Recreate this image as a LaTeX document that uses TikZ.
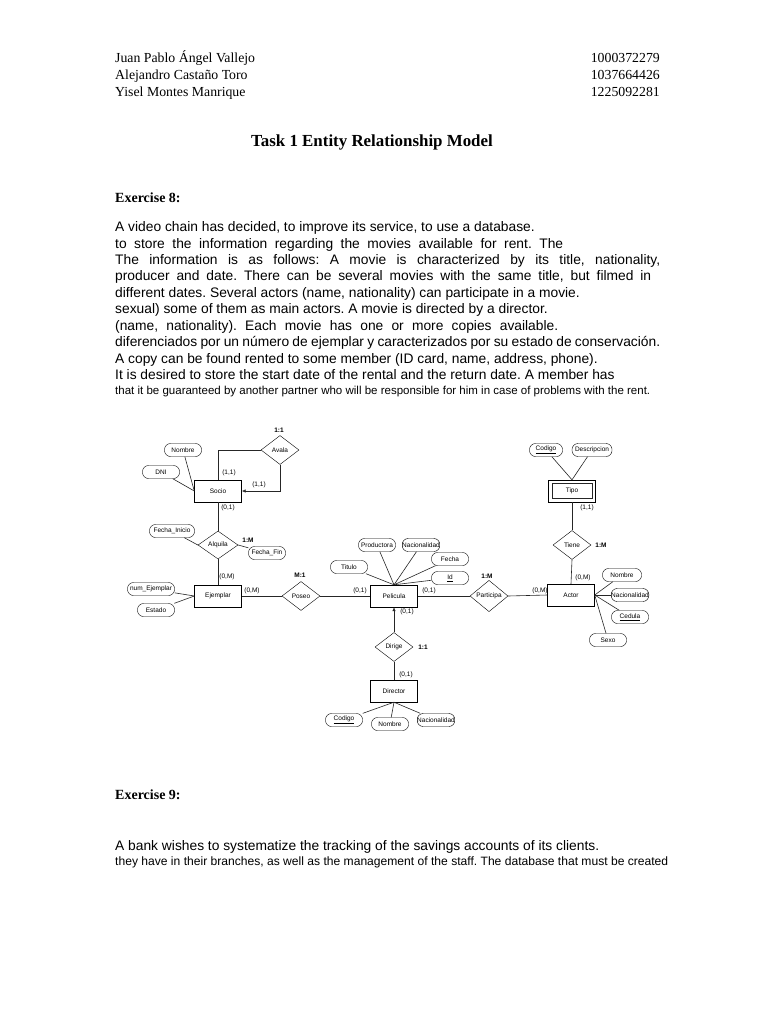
\documentclass[tikz,border=0pt]{standalone}
\usepackage{fontspec}
\setmainfont{Liberation Serif}
\newfontfamily\arial{Liberation Sans}
\usetikzlibrary{shapes.geometric,arrows.meta}
\frenchspacing
\tikzset{
  hdr/.style={anchor=base west,inner sep=0pt,font=\fontsize{13.8}{14}\selectfont},
  hdrr/.style={anchor=base east,inner sep=0pt,font=\fontsize{13.8}{14}\selectfont},
  body/.style={anchor=base west,inner sep=0pt,font=\arial\fontsize{13.8}{14}\selectfont},
  ent/.style={draw,rectangle,minimum width=47pt,minimum height=22pt,inner sep=0pt,font=\arial\fontsize{6.5}{7}\selectfont},
  att/.style={draw,rectangle,rounded corners=6pt,minimum width=37pt,minimum height=13pt,inner sep=0pt,font=\arial\fontsize{6.5}{7}\selectfont},
  rel/.style={draw,diamond,minimum width=38pt,minimum height=29pt,inner sep=0pt,font=\arial\fontsize{6.5}{7}\selectfont},
  card/.style={inner sep=0pt,font=\arial\fontsize{6.5}{7}\selectfont},
  ratio/.style={inner sep=0pt,font=\arial\bfseries\fontsize{6.5}{7}\selectfont},
  ln/.style={draw=black!85,line width=0.6pt},
}
\begin{document}
\begin{tikzpicture}[x=1pt,y=-1pt]
\useasboundingbox[fill=white] (0,0) rectangle (768,1024);
% header
\node[hdr] (n1) at (115,63) {Juan Pablo Ángel Vallejo};
\node[hdr] (n2) at (115,80) {Alejandro Castaño Toro};
\node[hdr] (n3) at (115,97) {Yisel Montes Manrique};
\node[hdrr] (c1) at (660,63) {1000372279};
\node[hdrr] (c2) at (660,80) {1037664426};
\node[hdrr] (c3) at (660,97) {1225092281};
\node[inner sep=0pt,font=\bfseries\fontsize{16.9}{17}\selectfont] (title) at (372,142) {Task 1 Entity Relationship Model};
\node[hdr,font=\bfseries\fontsize{14}{14}\selectfont] (ex8) at (115,203) {Exercise 8:};
% body
\node[body] (l1) at (115,232) {A video chain has decided, to improve its service, to use a database.};
\node[body] (l2) at (115,248) {\makebox[448pt][s]{to store the information regarding the movies available for rent. The}};
\node[body] (l3) at (115,264) {\makebox[545pt][s]{The information is as follows: A movie is characterized by its title, nationality,}};
\node[body] (l4) at (115,280) {\makebox[536pt][s]{producer and date. There can be several movies with the same title, but filmed in}};
\node[body] (l5) at (115,297) {different dates. Several actors (name, nationality) can participate in a movie.};
\node[body] (l6) at (115,313) {sexual) some of them as main actors. A movie is directed by a director.};
\node[body] (l7) at (115,330) {\makebox[443pt][s]{(name, nationality). Each movie has one or more copies available.}};
\node[body] (l8) at (115,346) {\makebox[545pt][s]{diferenciados por un número de ejemplar y caracterizados por su estado de conservación.}};
\node[body] (l9) at (115,363) {A copy can be found rented to some member (ID card, name, address, phone).};
\node[body] (l10) at (115,379) {It is desired to store the start date of the rental and the return date. A member has};
\node[body] (l11) at (115,394) {\resizebox{535pt}{!}{\fontsize{11}{11}\selectfont that it be guaranteed by another partner who will be responsible for him in case of problems with the rent.}};
% ===== diagram =====
% Socio
\node[ent] (socio) at (218,491) {Socio};
\node[att] (snom) at (183,450) {Nombre};
\node[att] (sdni) at (161,472) {DNI};
\node[rel] (avala) at (280,450) {Avala};
\node[ratio] (r11a) at (279,430) {1:1};
\node[card] (ca1) at (229,473) {(1,1)};
\node[card] (ca2) at (259,485) {(1,1)};
\node[card] (ca3) at (228,508) {(0,1)};
\draw[ln] (avala.west) -| (socio.north);
\draw[ln,-{Latex[length=4pt,width=3.5pt]}] (avala.south) |- (socio.east);
\draw[ln] (snom) -- (socio.west);
\draw[ln] (sdni) -- (socio.west);
% Alquila
\node[rel,minimum width=40pt,minimum height=28pt] (alq) at (218,545) {Alquila};
\node[att,minimum width=45pt] (fini) at (172,531) {Fecha\_Inicio};
\node[att] (ffin) at (267,553) {Fecha\_Fin};
\node[ratio] (r1m1) at (248,540) {1:M};
\draw[ln] (socio.south) -- (alq.north);
\draw[ln] (fini) -- (alq.west);
\draw[ln] (alq.east) -- (ffin);
% Ejemplar
\node[ent] (ejem) at (218,596) {Ejemplar};
\node[att,minimum width=47pt] (numej) at (151,589) {num\_Ejemplar};
\node[att] (estado) at (156,610) {Estado};
\node[card] (ce1) at (227,577) {(0,M)};
\node[card] (ce2) at (252,591) {(0,M)};
\draw[ln] (alq.south) -- (ejem.north);
\draw[ln] (numej) -- (ejem.west);
\draw[ln] (estado) -- (ejem.west);
% Poseo
\node[rel] (poseo) at (301,596) {Poseo};
\node[ratio] (rm1) at (300,575) {M:1};
\draw[ln] (ejem.east) -- (poseo.west);
% Pelicula
\node[ent] (pel) at (394,596) {Pelicula};
\node[att] (prod) at (377,545) {Productora};
\node[att] (pnac) at (421,545) {Nacionalidad};
\node[att] (tit) at (349,567) {Titulo};
\node[att] (fecha) at (450,559) {Fecha};
\node[att] (pid) at (450,578) {\underline{Id}};
\node[card] (cp1) at (360,591) {(0,1)};
\node[card] (cp2) at (429,591) {(0,1)};
\node[card] (cp3) at (407,612) {(0,1)};
\draw[ln] (poseo.east) -- (pel.west);
\foreach \a in {prod,pnac,tit,fecha,pid} \draw[ln] (\a) -- (pel.north);
% Participa
\node[rel] (part) at (489,596) {Participa};
\node[ratio] (r1m2) at (487,576) {1:M};
\draw[ln] (pel.east) -- (part.west);
% Actor
\node[ent] (actor) at (571,595) {Actor};
\node[att,minimum width=39pt] (anom) at (622,575) {Nombre};
\node[att] (anac) at (630,595) {Nacionalidad};
\node[att] (aced) at (630,617) {\underline{Cedula}};
\node[att] (asex) at (608,640) {Sexo};
\node[card] (cac1) at (540,591) {(0,M)};
\node[card] (cac2) at (583,578) {(0,M)};
\draw[ln] (part.east) -- (actor.west);
\foreach \a in {anom,anac,aced,asex} \draw[ln] (\a) -- (actor.east);
% Tiene
\node[rel] (tiene) at (572,545) {Tiene};
\node[ratio] (r1m3) at (601,545) {1:M};
\draw[ln] (actor.north) -- (tiene.south);
% Tipo (weak entity, double border)
\node[ent] (tipo) at (572,491) {Tipo};
\draw[ln] ([xshift=3.5pt,yshift=-3.5pt]tipo.north west) rectangle ([xshift=-3.5pt,yshift=3.5pt]tipo.south east);
\node[att,minimum width=33pt] (tcod) at (546,450) {\underline{Codigo}};
\node[att,minimum width=40pt] (tdes) at (592,450) {Descripcion};
\node[card] (ct1) at (587,508) {(1,1)};
\draw[ln] (tiene.north) -- (tipo.south);
\draw[ln] (tcod) -- (tipo.north);
\draw[ln] (tdes) -- (tipo.north);
% Dirige
\node[rel] (dir) at (394,647) {Dirige};
\node[ratio] (r11b) at (423,647) {1:1};
\draw[ln,-{Latex[length=4pt,width=3.5pt]}] (dir.north) -- (pel.south);
% Director
\node[ent] (director) at (394,691) {Director};
\node[att] (dcod) at (344,720) {\underline{Codigo}};
\node[att] (dnom) at (390,724) {Nombre};
\node[att] (dnac) at (436,720) {Nacionalidad};
\node[card] (cd1) at (406,675) {(0,1)};
\draw[ln] (dir.south) -- (director.north);
\foreach \a in {dcod,dnom,dnac} \draw[ln] (director.south) -- (\a);
% Exercise 9
\node[hdr,font=\bfseries\fontsize{14}{14}\selectfont] (ex9) at (115,799) {Exercise 9:};
\node[body] (m1) at (115,850) {A bank wishes to systematize the tracking of the savings accounts of its clients.};
\node[body] (m2) at (115,865) {\resizebox{553pt}{!}{\fontsize{11}{11}\selectfont they have in their branches, as well as the management of the staff. The database that must be created}};
\end{tikzpicture}
\end{document}
